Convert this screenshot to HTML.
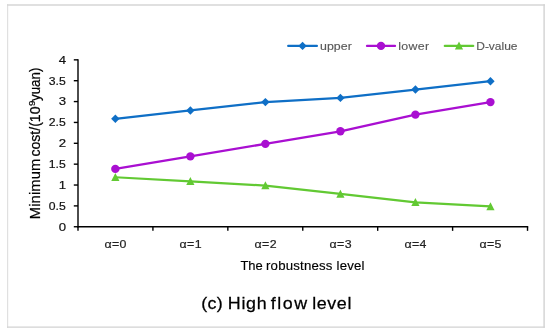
<!DOCTYPE html>
<html lang="en"><head><meta charset="utf-8"><title>High flow level</title>
<style>html,body{margin:0;padding:0;background:#fff}body{width:550px;height:334px;overflow:hidden}svg{display:block}text{font-family:"Liberation Sans",sans-serif;font-kerning:none}</style></head><body>
<svg width="550" height="334" viewBox="0 0 550 334">
<rect x="0" y="0" width="550" height="334" fill="#fff"/>
<g fill="none" stroke-width="1.4"><path d="M7.6 4.3V327.8" stroke="#e0e0e0" stroke-width="1.2"/><path d="M7 5H544.8" stroke="#d6d6d6" stroke-width="1.5"/><path d="M544.1 4.3V327.8" stroke="#d2d2d2"/><path d="M7 327.1H544.8" stroke="#d2d2d2"/></g>
<g stroke="#000" stroke-width="1.4" fill="none">
<path d="M78.0 59.15V227.45"/>
<path d="M77.3 226.75H528.22"/>
<path d="M73.8 226.75H78.0"/>
<path d="M73.8 205.89H78.0"/>
<path d="M73.8 185.03H78.0"/>
<path d="M73.8 164.16H78.0"/>
<path d="M73.8 143.30H78.0"/>
<path d="M73.8 122.44H78.0"/>
<path d="M73.8 101.57H78.0"/>
<path d="M73.8 80.71H78.0"/>
<path d="M73.8 59.85H78.0"/>
<path d="M78.00 226.75V230.85"/>
<path d="M152.92 226.75V230.85"/>
<path d="M227.84 226.75V230.85"/>
<path d="M302.76 226.75V230.85"/>
<path d="M377.68 226.75V230.85"/>
<path d="M452.60 226.75V230.85"/>
<path d="M527.52 226.75V230.85"/>
</g>
<polyline points="115.35,118.80 190.37,110.45 265.39,102.10 340.41,97.92 415.43,89.57 490.45,81.22" fill="none" stroke="#0F6FC6" stroke-width="2.25" stroke-linejoin="round" stroke-linecap="round"/>
<path d="M111.15 118.80L115.35 114.60L119.55 118.80L115.35 123.00Z" fill="#0F6FC6"/>
<path d="M186.17 110.45L190.37 106.25L194.57 110.45L190.37 114.65Z" fill="#0F6FC6"/>
<path d="M261.19 102.10L265.39 97.90L269.59 102.10L265.39 106.30Z" fill="#0F6FC6"/>
<path d="M336.21 97.92L340.41 93.72L344.61 97.92L340.41 102.12Z" fill="#0F6FC6"/>
<path d="M411.23 89.57L415.43 85.37L419.63 89.57L415.43 93.77Z" fill="#0F6FC6"/>
<path d="M486.25 81.22L490.45 77.02L494.65 81.22L490.45 85.42Z" fill="#0F6FC6"/>
<polyline points="115.35,168.90 190.37,156.38 265.39,143.85 340.41,131.32 415.43,114.62 490.45,102.10" fill="none" stroke="#A90FD1" stroke-width="2.25" stroke-linejoin="round" stroke-linecap="round"/>
<circle cx="115.35" cy="168.90" r="4.2" fill="#A90FD1"/>
<circle cx="190.37" cy="156.38" r="4.2" fill="#A90FD1"/>
<circle cx="265.39" cy="143.85" r="4.2" fill="#A90FD1"/>
<circle cx="340.41" cy="131.32" r="4.2" fill="#A90FD1"/>
<circle cx="415.43" cy="114.62" r="4.2" fill="#A90FD1"/>
<circle cx="490.45" cy="102.10" r="4.2" fill="#A90FD1"/>
<polyline points="115.35,177.25 190.37,181.42 265.39,185.60 340.41,193.95 415.43,202.30 490.45,206.47" fill="none" stroke="#62C933" stroke-width="2.25" stroke-linejoin="round" stroke-linecap="round"/>
<path d="M115.35 172.95L119.45 180.95L111.25 180.95Z" fill="#62C933"/>
<path d="M190.37 177.12L194.47 185.12L186.27 185.12Z" fill="#62C933"/>
<path d="M265.39 181.30L269.49 189.30L261.29 189.30Z" fill="#62C933"/>
<path d="M340.41 189.65L344.51 197.65L336.31 197.65Z" fill="#62C933"/>
<path d="M415.43 198.00L419.53 206.00L411.33 206.00Z" fill="#62C933"/>
<path d="M490.45 202.17L494.55 210.17L486.35 210.17Z" fill="#62C933"/>
<path d="M288.2 45.9H316.9" stroke="#0F6FC6" stroke-width="2.25" stroke-linecap="round"/>
<path d="M298.35 45.90L302.55 41.70L306.75 45.90L302.55 50.10Z" fill="#0F6FC6"/>
<text transform="translate(320.00,49.6) scale(1.05,1)" font-size="11.8" fill="#595959" letter-spacing="0.029" stroke="#595959" stroke-width="0.15">upper</text>
<path d="M367.0 45.9H395.0" stroke="#A90FD1" stroke-width="2.25" stroke-linecap="round"/>
<circle cx="381.00" cy="45.90" r="4.2" fill="#A90FD1"/>
<text transform="translate(398.17,49.6) scale(1.05,1)" font-size="11.8" fill="#595959" letter-spacing="0.341" stroke="#595959" stroke-width="0.15">lower</text>
<path d="M444.8 45.9H473.2" stroke="#62C933" stroke-width="2.25" stroke-linecap="round"/>
<path d="M459.00 41.60L463.10 49.60L454.90 49.60Z" fill="#62C933"/>
<text x="476.22" y="49.6" font-size="11.8" fill="#595959" textLength="41.32" lengthAdjust="spacingAndGlyphs" stroke="#595959" stroke-width="0.15">D-value</text>
<text x="58.79" y="230.65" font-size="11.8" fill="#111" stroke="#111" stroke-width="0.2" textLength="7.33" lengthAdjust="spacingAndGlyphs">0</text>
<text x="48.72" y="209.79" font-size="11.8" fill="#111" stroke="#111" stroke-width="0.2" textLength="16.99" lengthAdjust="spacingAndGlyphs">0.5</text>
<text x="58.79" y="188.93" font-size="11.8" fill="#111" stroke="#111" stroke-width="0.2" textLength="7.33" lengthAdjust="spacingAndGlyphs">1</text>
<text x="48.72" y="168.06" font-size="11.8" fill="#111" stroke="#111" stroke-width="0.2" textLength="16.99" lengthAdjust="spacingAndGlyphs">1.5</text>
<text x="58.79" y="147.20" font-size="11.8" fill="#111" stroke="#111" stroke-width="0.2" textLength="7.33" lengthAdjust="spacingAndGlyphs">2</text>
<text x="48.72" y="126.34" font-size="11.8" fill="#111" stroke="#111" stroke-width="0.2" textLength="16.99" lengthAdjust="spacingAndGlyphs">2.5</text>
<text x="58.79" y="105.47" font-size="11.8" fill="#111" stroke="#111" stroke-width="0.2" textLength="7.33" lengthAdjust="spacingAndGlyphs">3</text>
<text x="48.72" y="84.61" font-size="11.8" fill="#111" stroke="#111" stroke-width="0.2" textLength="16.99" lengthAdjust="spacingAndGlyphs">3.5</text>
<text x="58.79" y="63.75" font-size="11.8" fill="#111" stroke="#111" stroke-width="0.2" textLength="7.33" lengthAdjust="spacingAndGlyphs">4</text>
<text transform="translate(104.58,248.4) scale(1.05,1)" font-size="11.8" fill="#222" letter-spacing="0.293" stroke="#222" stroke-width="0.2">α=0</text>
<text transform="translate(179.58,248.4) scale(1.05,1)" font-size="11.8" fill="#222" letter-spacing="0.350" stroke="#222" stroke-width="0.2">α=1</text>
<text transform="translate(254.58,248.4) scale(1.05,1)" font-size="11.8" fill="#222" letter-spacing="0.359" stroke="#222" stroke-width="0.2">α=2</text>
<text transform="translate(329.58,248.4) scale(1.05,1)" font-size="11.8" fill="#222" letter-spacing="0.322" stroke="#222" stroke-width="0.2">α=3</text>
<text transform="translate(404.58,248.4) scale(1.05,1)" font-size="11.8" fill="#222" letter-spacing="0.235" stroke="#222" stroke-width="0.2">α=4</text>
<text transform="translate(479.58,248.4) scale(1.05,1)" font-size="11.8" fill="#222" letter-spacing="0.310" stroke="#222" stroke-width="0.2">α=5</text>
<text x="240.41" y="270.2" font-size="12.6" fill="#000" textLength="22.37" lengthAdjust="spacingAndGlyphs" stroke="#000" stroke-width="0.15">The</text>
<text transform="translate(266.02,270.2) scale(1.05,1)" font-size="12.6" fill="#000" letter-spacing="0.184" stroke="#000" stroke-width="0.15">robustness</text>
<text transform="translate(336.61,270.2) scale(1.05,1)" font-size="12.6" fill="#000" letter-spacing="0.183" stroke="#000" stroke-width="0.15">level</text>
<g transform="translate(40.3,0) rotate(-90)">
<text transform="translate(-219.21,0) scale(1.05,1)" font-size="14.0" fill="#000" letter-spacing="0.136" stroke="#000" stroke-width="0.2">Minimum</text>
<text x="-156.60" y="0" font-size="14.0" fill="#000" textLength="50.15" lengthAdjust="spacingAndGlyphs" stroke="#000" stroke-width="0.2">cost/(10</text>
<text x="-105.96" y="-5.4" font-size="9.2" fill="#000" textLength="5.42" lengthAdjust="spacingAndGlyphs" stroke="#000" stroke-width="0.2">9</text>
<text x="-101.03" y="0" font-size="14.0" fill="#000" textLength="33.36" lengthAdjust="spacingAndGlyphs" stroke="#000" stroke-width="0.2">yuan)</text>
</g>
<text transform="translate(201.19,308.6) scale(1.05,1)" font-size="17.0" fill="#000" letter-spacing="0.286" stroke="#000" stroke-width="0.25">(c)</text>
<text transform="translate(227.84,308.6) scale(1.05,1)" font-size="17.0" fill="#000" letter-spacing="0.671" stroke="#000" stroke-width="0.25">High</text>
<text transform="translate(270.85,308.6) scale(1.05,1)" font-size="17.0" fill="#000" letter-spacing="1.418" stroke="#000" stroke-width="0.25">flow</text>
<text transform="translate(312.20,308.6) scale(1.05,1)" font-size="17.0" fill="#000" letter-spacing="0.592" stroke="#000" stroke-width="0.25">level</text>
</svg></body></html>
